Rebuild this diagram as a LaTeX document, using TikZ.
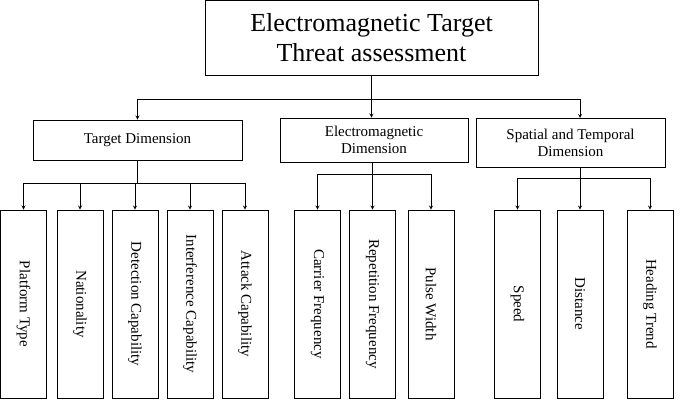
\documentclass[tikz,border=0pt]{standalone}
\usepackage{fontspec}
\setmainfont{Liberation Serif}
\begin{document}
\begin{tikzpicture}[x=1pt,y=-1pt,
  box/.style={draw,thick,inner sep=0pt,align=center},
  leaf/.style={box,minimum width=46pt,minimum height=188pt},
  leaftext/.style={rotate=-90,font=\fontsize{15}{17}\selectfont},
  arr/.style={thick,->,>=stealth}]
\useasboundingbox (0,0) rectangle (685,403);
\node[box,minimum width=333pt,minimum height=75pt,font=\fontsize{26}{30}\selectfont] (top) at (371.5,38) {Electromagnetic Target\\Threat assessment};
\node[box,minimum width=209pt,minimum height=40pt,font=\fontsize{15}{17}\selectfont] (td) at (137.5,140) {Target Dimension};
\node[box,minimum width=188pt,minimum height=44pt,font=\fontsize{15}{17}\selectfont] (ed) at (374,140) {Electromagnetic\\Dimension};
\node[box,minimum width=189pt,minimum height=49pt,font=\fontsize{15}{17}\selectfont] (sd) at (570.5,142.5) {Spatial and Temporal\\Dimension};
\coordinate (b0) at (371.5,99);
\draw[thick] (top.south) -- (b0);
\draw[thick] (137.5,99) -- (580,99);
\draw[arr] (137.5,99) -- (td.north);
\draw[arr] (b0) -- (b0 |- ed.north);
\draw[arr] (580,99) -- (580,118);
% leaves
\foreach \n/\x/\t in {a1/23.5/Platform Type, a2/80/Nationality, a3/135/Detection Capability, a4/190/Interference Capability, a5/245/Attack Capability,
  b1/317.5/Carrier Frequency, b2/372.5/Repetition Frequency, b3/431/Pulse Width,
  c1/517.5/Speed, c2/580/Distance, c3/650/Heading Trend}{
  \node[leaf] (\n) at (\x,304) {};
  \node[leaftext] at (\n) {\t};
}
\draw[thick] (td.south) -- (137.5,183);
\draw[thick] (23.5,183) -- (245,183);
\foreach \n in {a1,a2,a3,a4,a5}{\draw[arr] (\n.north |- 0,183) -- (\n.north);}
\draw[thick] (372.5,162) -- (372.5,174);
\draw[thick] (317.5,174) -- (431,174);
\foreach \n in {b1,b2,b3}{\draw[arr] (\n.north |- 0,174) -- (\n.north);}
\draw[thick] (580,167) -- (580,178);
\draw[thick] (517.5,178) -- (650,178);
\foreach \n in {c1,c2,c3}{\draw[arr] (\n.north |- 0,178) -- (\n.north);}
\end{tikzpicture}
\end{document}
